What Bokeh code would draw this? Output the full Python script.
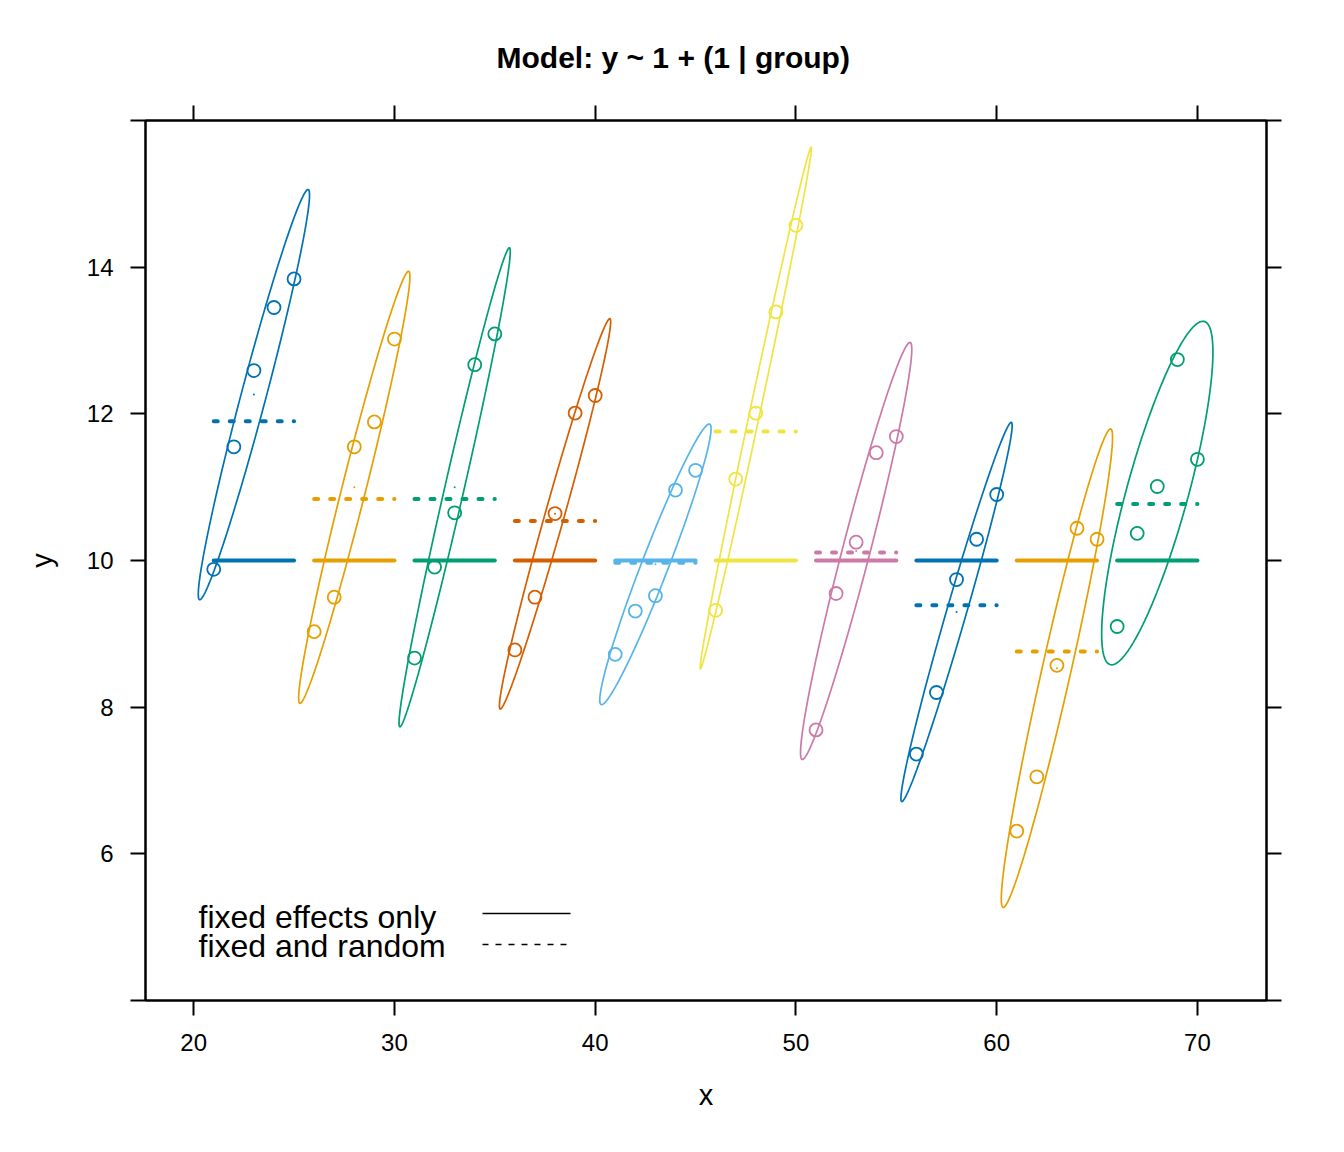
import numpy as np
from bokeh.plotting import figure
from bokeh.models import ColumnDataSource, Range1d, LinearAxis, FixedTicker, Label, Arrow
from bokeh.embed import file_html
from bokeh.resources import INLINE

group_x = [
    [21, 22, 23, 24, 25],
    [26, 27, 28, 29, 30],
    [31, 32, 33, 34, 35],
    [36, 37, 38, 39, 40],
    [41, 42, 43, 44, 45],
    [46, 47, 48, 49, 50],
    [51, 52, 53, 54, 55],
    [56, 57, 58, 59, 60],
    [61, 62, 63, 64, 65],
    [66, 67, 68, 69, 70],
]
group_y = [
    [9.88, 11.55, 12.59, 13.45, 13.84],
    [9.03, 9.50, 11.55, 11.89, 13.02],
    [8.67, 9.91, 10.65, 12.67, 13.09],
    [8.78, 9.50, 10.64, 12.01, 12.25],
    [8.72, 9.31, 9.52, 10.96, 11.23],
    [9.32, 11.11, 12.01, 13.39, 14.57],
    [7.69, 9.55, 10.25, 11.47, 11.69],
    [7.36, 8.20, 9.74, 10.29, 10.90],
    [6.31, 7.05, 8.57, 10.44, 10.29],
    [9.10, 10.37, 11.01, 12.74, 11.38],
]
fixed_pred = 10.0
mixed_pred = [11.90, 10.84, 10.84, 10.54, 9.97, 11.76, 10.11, 9.39, 8.76, 10.77]
group_colors = ["#0072B2", "#E69F00", "#009E73", "#D55E00", "#56B4E9",
                "#F0E442", "#CC79A7", "#0072B2", "#E69F00", "#009E73"]
x_ticks = [20, 30, 40, 50, 60, 70]
y_ticks = [4, 6, 8, 10, 12, 14, 16]

FONT = "Liberation Sans"


def data_ellipse(xs, ys, level=0.68, n=200):
    # same construction as latticeExtra::panel.ellipse
    xs = np.asarray(xs, float)
    ys = np.asarray(ys, float)
    dfd = len(xs) - 1
    qf = dfd / 2 * ((1 - level) ** (-2 / dfd) - 1)
    radius = np.sqrt(2 * qf)
    chol = np.linalg.cholesky(np.cov(xs, ys))
    t = np.linspace(0, 2 * np.pi, n)
    pts = chol @ np.vstack([np.cos(t), np.sin(t)]) * radius
    return list(xs.mean() + pts[0]), list(ys.mean() + pts[1])


ell_xs, ell_ys = [], []
for gx, gy in zip(group_x, group_y):
    ex, ey = data_ellipse(gx, gy)
    ell_xs.append(ex)
    ell_ys.append(ey)

ellipses = ColumnDataSource(dict(xs=ell_xs, ys=ell_ys, color=group_colors))
lines = ColumnDataSource(dict(
    x0=[min(g) for g in group_x],
    x1=[max(g) for g in group_x],
    fixed=[fixed_pred] * len(group_x),
    mixed=mixed_pred,
    cx=[np.mean(g) for g in group_x],
    cy=[np.mean(g) for g in group_y],
    color=group_colors,
))
points = ColumnDataSource(dict(
    x=[v for g in group_x for v in g],
    y=[v for g in group_y for v in g],
    color=[c for c, g in zip(group_colors, group_x) for _ in g],
))

p = figure(
    width=1344, height=1152,
    x_range=Range1d(17.6, 73.44), y_range=Range1d(4, 16),
    title="Model: y ~ 1 + (1 | group)",
    x_axis_label="x", y_axis_label="y",
    output_backend="svg", toolbar_location=None, tools="",
    min_border_left=145, min_border_right=78,
    min_border_top=120, min_border_bottom=152,
)

p.multi_line("xs", "ys", source=ellipses, line_color="color", line_width=1.7)
p.segment("x0", "fixed", "x1", "fixed", source=lines, line_color="color",
          line_width=4, line_cap="round")
p.segment("x0", "mixed", "x1", "mixed", source=lines, line_color="color",
          line_width=4, line_cap="round", line_dash="4 12")
p.scatter("x", "y", source=points, marker="circle", size=13,
          fill_color=None, line_color="color", line_width=1.8)
p.scatter("cx", "cy", source=lines, marker="circle", size=2,
          fill_color="color", line_color=None)

p.grid.visible = False
p.outline_line_color = "black"
p.outline_line_width = 2

bottom_axis = p.xaxis[0]
left_axis = p.yaxis[0]
bottom_axis.ticker = FixedTicker(ticks=x_ticks)
left_axis.ticker = FixedTicker(ticks=y_ticks)
left_axis.major_label_overrides = {4: "", 16: ""}
bottom_axis.major_label_standoff = 18
left_axis.major_label_standoff = 17
bottom_axis.axis_label_standoff = 25
left_axis.axis_label_standoff = 26

top_axis = LinearAxis(ticker=FixedTicker(ticks=x_ticks),
                      major_label_overrides={t: "" for t in x_ticks},
                      major_label_standoff=0)
right_axis = LinearAxis(ticker=FixedTicker(ticks=y_ticks),
                        major_label_overrides={t: "" for t in y_ticks},
                        major_label_standoff=0)
p.add_layout(top_axis, "above")
p.add_layout(right_axis, "right")

for ax in [bottom_axis, left_axis, top_axis, right_axis]:
    ax.axis_line_color = "black"
    ax.axis_line_width = 2
    ax.major_tick_line_color = "black"
    ax.major_tick_line_width = 2
    ax.major_tick_in = 0
    ax.major_tick_out = 15
    ax.minor_tick_line_color = None
    ax.major_label_text_font = FONT
    ax.major_label_text_font_size = "24px"
    ax.major_label_text_color = "black"
    ax.axis_label_text_font = FONT
    ax.axis_label_text_font_size = "29px"
    ax.axis_label_text_font_style = "normal"
    ax.axis_label_text_color = "black"

# title sits over the page centre, not the panel centre
p.title.align = "left"
p.title.offset = 351
p.title.standoff = 64
p.title.text_font = FONT
p.title.text_font_size = "30px"
p.title.text_font_style = "bold"
p.title.text_color = "black"

# key, drawn in the lower left corner of the panel
key_labels = ["fixed effects only", "fixed and random"]
key_text_y = [84, 55]
key_line_y = [87, 56]
key_dash = ["solid", "6 7"]
for lab, ty, ly, dash in zip(key_labels, key_text_y, key_line_y, key_dash):
    p.add_layout(Label(x=53, y=ty, x_units="screen", y_units="screen", text=lab,
                       text_font=FONT, text_font_size="32px", text_color="black",
                       text_baseline="middle", text_align="left"))
    p.add_layout(Arrow(end=None, x_start=337, y_start=ly, x_end=425, y_end=ly,
                       start_units="screen", end_units="screen",
                       line_color="black", line_width=1.5, line_dash=dash))

open("out.html", "w").write(file_html(p, INLINE))
